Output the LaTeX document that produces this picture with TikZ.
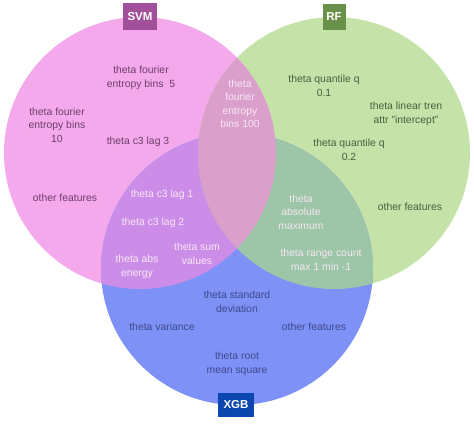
\documentclass[tikz,border=0pt]{standalone}
\usepackage{fontspec}
\setmainfont{Liberation Sans}
\usetikzlibrary{positioning}
\definecolor{svmfill}{HTML}{F3A9EC}
\definecolor{rffill}{HTML}{C5E3A9}
\definecolor{xgbfill}{HTML}{7E91F6}
\definecolor{svmxgbfill}{HTML}{CC8DE9}
\definecolor{rfxgbfill}{HTML}{9DC5A7}
\definecolor{svmrffill}{HTML}{DB9FCC}
\definecolor{svmbox}{HTML}{A2509B}
\definecolor{rfbox}{HTML}{6A9149}
\definecolor{xgbbox}{HTML}{0B47AE}
\definecolor{svmtext}{HTML}{6E3F68}
\definecolor{rftext}{HTML}{4B5E3C}
\definecolor{xgbtext}{HTML}{3D4A8C}
\definecolor{lighttext}{HTML}{F7E8F5}
\tikzset{
    feat/.style={align=center,inner sep=1pt,font=\fontsize{10.4}{13.5}\selectfont},
    svmfeat/.style={feat,text=svmtext},
    rffeat/.style={feat,text=rftext},
    xgbfeat/.style={feat,text=xgbtext},
    overlapfeat/.style={feat,text=lighttext},
    tagbox/.style={text=white,inner sep=0pt,font=\bfseries\fontsize{11.5}{13}\selectfont}
}
\begin{document}
\begin{tikzpicture}[x=1pt,y=-1pt]
  \useasboundingbox (0,0) rectangle (474,424);

  %---------------- circles ----------------
            \coordinate (SVM) at (140,153);
            \coordinate (RF) at (334,153);
            \coordinate (XGB) at (237,269);
            \fill[svmfill] (SVM) circle[radius=136pt];
            \fill[rffill] (RF) circle[radius=136pt];
            \fill[xgbfill] (XGB) circle[radius=136pt];

  % overlaps
            \begin{scope}
                \clip (SVM) circle[radius=136pt];
                \fill[svmxgbfill] (XGB) circle[radius=136pt];
            \end{scope}
            \begin{scope}
                \clip (RF) circle[radius=136pt];
                \fill[rfxgbfill] (XGB) circle[radius=136pt];
            \end{scope}
            \begin{scope}
                \clip (SVM) circle[radius=136pt];
                \fill[svmrffill] (RF) circle[radius=136pt];
            \end{scope}

  %---------------- tags ----------------
            \node[tagbox,fill=svmbox,minimum width=34pt,minimum height=27pt] (svmtag) at (140,16.5) {SVM};
            \node[tagbox,fill=rfbox,minimum width=23pt,minimum height=26pt] (rftag) at (334,17) {RF};
            \node[tagbox,fill=xgbbox,minimum width=36pt,minimum height=24pt] (xgbtag) at (236,405) {XGB};

  %---------------- SVM only ----------------
            \node[svmfeat] (svmA) at (141,78) {theta fourier\\entropy bins\ \ 5};
            \node[svmfeat] (svmB) at (57,125) {theta fourier\\entropy bins\\10};
            \node[svmfeat] (svmC) at (138,142) {theta c3 lag 3};
            \node[svmfeat] (svmD) at (65,198) {other features};

  %---------------- SVM and RF ----------------
            \node[overlapfeat] (svmrfA) at (240,104) {theta\\fourier\\entropy\\bins 100};

  %---------------- SVM and XGB ----------------
            \node[overlapfeat] (svmxgbA) at (162,195) {theta c3 lag 1};
            \node[overlapfeat] (svmxgbB) at (153,223) {theta c3 lag 2};
            \node[overlapfeat] (svmxgbC) at (197,254) {theta sum\\values};
            \node[overlapfeat] (svmxgbD) at (137,267) {theta abs\\energy};

  %---------------- RF and XGB ----------------
            \node[overlapfeat] (rfxgbA) at (301,212) {theta\\absolute\\maximum};
            \node[overlapfeat] (rfxgbB) at (321,260) {theta range count\\max 1 min -1};

  %---------------- RF only ----------------
            \node[rffeat] (rfA) at (324,86) {theta quantile q\\0.1};
            \node[rffeat] (rfB) at (406,114) {theta linear tren\\attr "intercept"};
            \node[rffeat] (rfC) at (349,150) {theta quantile q\\0.2};
            \node[rffeat] (rfD) at (410,207) {other features};

  %---------------- XGB only ----------------
            \node[xgbfeat] (xgbA) at (237,302) {theta standard\\deviation};
            \node[xgbfeat] (xgbB) at (162,327) {theta variance};
            \node[xgbfeat] (xgbC) at (314,327) {other features};
            \node[xgbfeat] (xgbD) at (237,364) {theta root\\mean square};

        \end{tikzpicture}
\end{document}
